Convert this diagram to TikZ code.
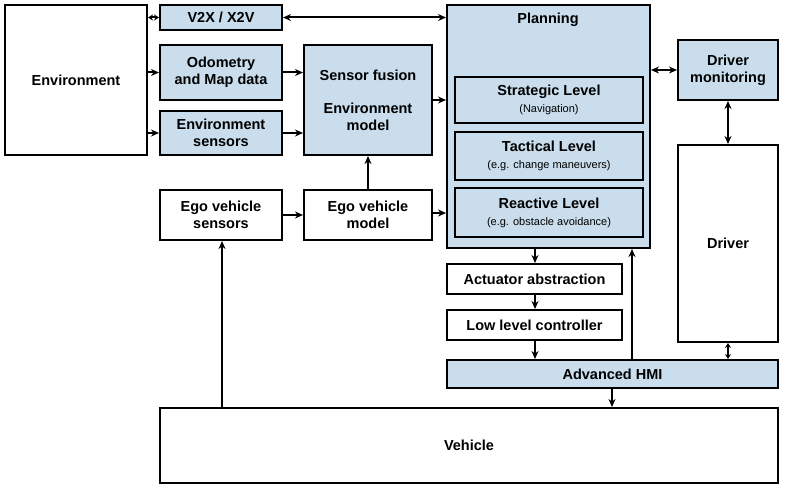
\documentclass[tikz,border=0pt]{standalone}
\usepackage{fontspec}
\setmainfont{Liberation Sans}
\usetikzlibrary{arrows.meta}
\definecolor{lb}{HTML}{C9DDEC}
\begin{document}
\begin{tikzpicture}[x=1pt,y=-1pt,
  box/.style={draw,line width=2pt,align=center,inner sep=0pt,font=\bfseries\fontsize{14.5}{17}\selectfont},
  bl/.style={box,fill=lb},
  ar/.style={line width=2pt,-{Stealth[length=8pt,width=7pt]}},
  ab/.style={line width=2pt,{Stealth[length=8pt,width=7pt]}-{Stealth[length=8pt,width=7pt]}},
  abs/.style={line width=2pt,{Stealth[length=5pt,width=6pt]}-{Stealth[length=5pt,width=6pt]}}]
\useasboundingbox (0,0) rectangle (785,489);
\def\B#1#2#3#4#5#6#7{\node[#1,minimum width=#4-#2,minimum height=#5-#3] (#6) at ({(#2+#4)/2},{(#3+#5)/2}) {#7};}
\B{box}{5}{5}{147}{155}{env}{Environment}
\B{bl}{160}{5}{282}{30}{v2x}{V2X / X2V}
\B{bl}{160}{45}{282}{100}{odo}{Odometry\\and Map data}
\B{bl}{160}{111}{282}{155}{es}{Environment\\sensors}
\B{bl}{304}{45}{432}{155}{sf}{Sensor fusion\\[16pt]Environment\\model}
\B{box}{160}{190}{282}{240}{egs}{Ego vehicle\\sensors}
\B{box}{304}{190}{432}{240}{egm}{Ego vehicle\\model}
\B{bl}{447}{5}{650}{248}{pl}{}
\node[font=\bfseries\fontsize{14.5}{17}\selectfont,anchor=north] at (548,9) {Planning};
\B{box}{455}{77}{643}{123}{str}{Strategic Level\\{\mdseries\fontsize{11}{13}\selectfont(Navigation)}}
\B{box}{455}{132}{643}{180}{tac}{Tactical Level\\{\mdseries\fontsize{11}{13}\selectfont(e.g. change maneuvers)}}
\B{box}{455}{188}{643}{237}{rea}{Reactive Level\\{\mdseries\fontsize{11}{13}\selectfont(e.g. obstacle avoidance)}}
\B{bl}{678}{40}{778}{100}{dm}{Driver\\monitoring}
\B{box}{678}{145}{778}{342}{dr}{Driver}
\B{box}{447}{264}{622}{294}{act}{Actuator abstraction}
\B{box}{447}{310}{622}{340}{llc}{Low level controller}
\B{bl}{447}{360}{778}{388}{hmi}{Advanced HMI}
\B{box}{160}{408}{778}{483}{veh}{Vehicle}
\draw[abs] (env.east|-v2x) -- (v2x.west);
\draw[ab] (v2x.east) -- (pl.west|-v2x);
\draw[ar] (env.east|-odo) -- (odo.west);
\draw[ar] (env.east|-es) -- (es.west);
\draw[ar] (odo.east) -- (sf.west|-odo);
\draw[ar] (es.east) -- (sf.west|-es);
\draw[ar] (sf.east|-0,100) -- (pl.west|-0,100);
\draw[ar] (egs.east) -- (egm.west);
\draw[ar] (egm.north) -- (sf.south);
\draw[ar] (egm.east|-0,213) -- (pl.west|-0,213);
\draw[ab] (pl.east|-0,70) -- (dm.west|-0,70);
\draw[ab] (dm.south) -- (dr.north);
\draw[ar] (pl.south-|535,0) -- (act.north-|535,0);
\draw[ar] (act.south-|535,0) -- (llc.north-|535,0);
\draw[ar] (llc.south-|535,0) -- (hmi.north-|535,0);
\draw[ar] (hmi.north-|632,0) -- (pl.south-|632,0);
\draw[abs] (dr.south) -- (hmi.north-|dr.south);
\draw[ar] (hmi.south-|612,0) -- (veh.north-|612,0);
\draw[ar] (veh.north-|222,0) -- (egs.south-|222,0);
\end{tikzpicture}
\end{document}
